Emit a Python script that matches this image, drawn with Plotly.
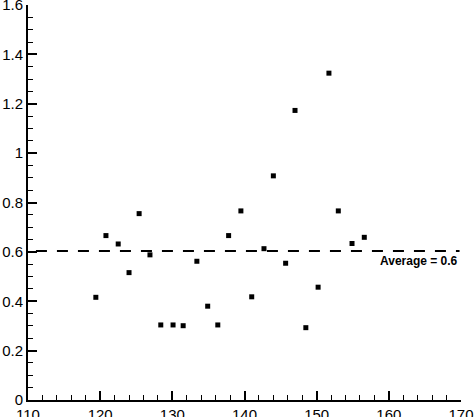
import plotly.graph_objects as go

# scatter values
x_vals = [119.4, 120.8, 122.5, 124.0, 125.4, 126.9, 128.4, 130.1, 131.5,
          133.4, 134.9, 136.3, 137.8, 139.5, 141.0, 142.7, 144.0, 145.7,
          147.0, 148.5, 150.2, 151.7, 153.0, 154.9, 156.6]
y_vals = [0.416, 0.666, 0.632, 0.516, 0.755, 0.588, 0.304, 0.304, 0.301,
          0.562, 0.380, 0.304, 0.666, 0.766, 0.418, 0.613, 0.908, 0.554,
          1.173, 0.293, 0.457, 1.324, 0.766, 0.634, 0.659]

avg_value = 0.604
avg_x = [111.1, 169.8]
avg_label = "Average = 0.6"

x_ticks = [110, 120, 130, 140, 150, 160, 170]
y_ticks = [0, 0.2, 0.4, 0.6, 0.8, 1, 1.2, 1.4, 1.6]
y_tick_text = ["0", "0.2", "0.4", "0.6", "0.8", "1", "1.2", "1.4", "1.6"]

fig = go.Figure()

fig.add_trace(go.Scatter(
    x=avg_x, y=[avg_value, avg_value],
    mode="lines",
    line=dict(color="black", width=2, dash="11px,10px"),
    showlegend=False,
))

fig.add_trace(go.Scatter(
    x=x_vals, y=y_vals,
    mode="markers",
    marker=dict(symbol="square", size=5, color="black"),
    showlegend=False,
))

fig.add_annotation(
    x=avg_x[1], y=0.565, text=avg_label,
    xanchor="right", yanchor="middle", showarrow=False,
    font=dict(family="Liberation Sans", size=12, color="black", weight="bold"),
)

axis_common = dict(
    showgrid=False, zeroline=False, automargin=False,
    ticklabeloverflow="allow",
    showline=True, linewidth=2, linecolor="black",
    ticks="inside", ticklen=9, tickwidth=2, tickcolor="black",
    tickfont=dict(family="Liberation Sans", size=15, color="black"),
)

fig.update_xaxes(
    range=[110, 170.001], tickvals=x_ticks,
    minor=dict(ticks="inside", ticklen=5, tickwidth=1, dtick=2, tickcolor="black"),
    **axis_common,
)
fig.update_yaxes(
    range=[0, 1.6001], tickvals=y_ticks, ticktext=y_tick_text,
    minor=dict(ticks="inside", ticklen=5, tickwidth=1, dtick=0.05, tickcolor="black"),
    **axis_common,
)

fig.update_layout(
    width=474, height=417,
    margin=dict(l=28, r=13, t=5, b=17),
    plot_bgcolor="white", paper_bgcolor="white",
)

# page body has an 8px default margin; drop it so the figure sits at 0,0
fig.write_html("out.html", config={"displayModeBar": False},
               post_script="document.body.style.margin='0';")
